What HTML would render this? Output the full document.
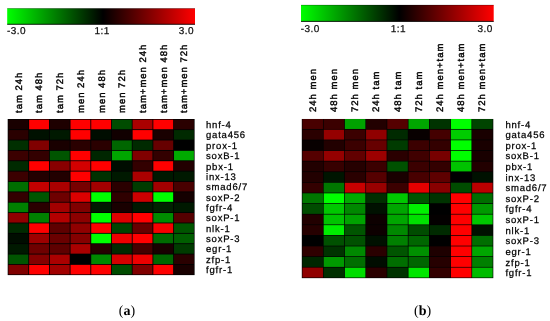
<!DOCTYPE html>
<html><head><meta charset="utf-8"><title>heatmap</title>
<style>
html,body{margin:0;padding:0;background:#fff;}
body{width:550px;height:321px;position:relative;overflow:hidden;font-family:"Liberation Sans",sans-serif;color:#000;text-rendering:geometricPrecision;}
.hm{position:absolute;}
.rl{position:absolute;font-size:9.5px;line-height:12px;height:12px;letter-spacing:0.8px;white-space:nowrap;-webkit-text-stroke:0.25px #000;}
.cl{position:absolute;font-size:9.5px;line-height:12px;height:12px;letter-spacing:1.0px;white-space:nowrap;transform-origin:0 0;transform:rotate(-90deg) translateY(-4.5px);-webkit-text-stroke:0.4px #000;}
.bar{position:absolute;background:linear-gradient(to right,#00ff00 0%,#000 51%,#ff0000 100%);box-sizing:border-box;border-top:0.6px solid #222;border-bottom:1px solid #111;}
.bt{position:absolute;font-size:10px;line-height:12px;white-space:nowrap;letter-spacing:0.45px;color:#111;-webkit-text-stroke:0.25px #111;}
.cap{position:absolute;font-family:"Liberation Serif",serif;font-size:14px;line-height:16px;white-space:nowrap;transform:translateX(-50%);}
</style></head><body>
<svg class="hm" style="left:0;top:0" width="550" height="321" viewBox="0 0 550 321">
<rect x="7.70" y="119.00" width="186.90" height="156.10" fill="#000"/>
<rect x="8.42" y="119.72" width="19.86" height="9.53" fill="rgb(25,0,0)"/>
<rect x="29.12" y="119.72" width="19.86" height="9.53" fill="rgb(255,0,0)"/>
<rect x="49.82" y="119.72" width="19.86" height="9.53" fill="rgb(30,0,0)"/>
<rect x="70.52" y="119.72" width="19.86" height="9.53" fill="rgb(255,0,0)"/>
<rect x="91.22" y="119.72" width="19.86" height="9.53" fill="rgb(255,0,0)"/>
<rect x="111.92" y="119.72" width="19.86" height="9.53" fill="rgb(0,76,0)"/>
<rect x="132.62" y="119.72" width="19.86" height="9.53" fill="rgb(170,0,0)"/>
<rect x="153.32" y="119.72" width="19.86" height="9.53" fill="rgb(255,0,0)"/>
<rect x="174.02" y="119.72" width="19.86" height="9.53" fill="rgb(42,0,0)"/>
<rect x="8.42" y="130.09" width="19.86" height="9.53" fill="rgb(42,0,0)"/>
<rect x="29.12" y="130.09" width="19.86" height="9.53" fill="rgb(0,17,0)"/>
<rect x="49.82" y="130.09" width="19.86" height="9.53" fill="rgb(0,25,0)"/>
<rect x="70.52" y="130.09" width="19.86" height="9.53" fill="rgb(255,0,0)"/>
<rect x="91.22" y="130.09" width="19.86" height="9.53" fill="rgb(0,13,0)"/>
<rect x="111.92" y="130.09" width="19.86" height="9.53" fill="rgb(17,0,0)"/>
<rect x="132.62" y="130.09" width="19.86" height="9.53" fill="rgb(255,0,0)"/>
<rect x="153.32" y="130.09" width="19.86" height="9.53" fill="rgb(25,0,0)"/>
<rect x="174.02" y="130.09" width="19.86" height="9.53" fill="rgb(0,42,0)"/>
<rect x="8.42" y="140.45" width="19.86" height="9.53" fill="rgb(0,47,0)"/>
<rect x="29.12" y="140.45" width="19.86" height="9.53" fill="rgb(128,0,0)"/>
<rect x="49.82" y="140.45" width="19.86" height="9.53" fill="rgb(25,0,0)"/>
<rect x="70.52" y="140.45" width="19.86" height="9.53" fill="rgb(42,0,0)"/>
<rect x="91.22" y="140.45" width="19.86" height="9.53" fill="rgb(42,0,0)"/>
<rect x="111.92" y="140.45" width="19.86" height="9.53" fill="rgb(0,102,0)"/>
<rect x="132.62" y="140.45" width="19.86" height="9.53" fill="rgb(0,42,0)"/>
<rect x="153.32" y="140.45" width="19.86" height="9.53" fill="rgb(102,0,0)"/>
<rect x="174.02" y="140.45" width="19.86" height="9.53" fill="rgb(0,0,0)"/>
<rect x="8.42" y="150.82" width="19.86" height="9.53" fill="rgb(59,0,0)"/>
<rect x="29.12" y="150.82" width="19.86" height="9.53" fill="rgb(51,0,0)"/>
<rect x="49.82" y="150.82" width="19.86" height="9.53" fill="rgb(0,85,0)"/>
<rect x="70.52" y="150.82" width="19.86" height="9.53" fill="rgb(255,0,0)"/>
<rect x="91.22" y="150.82" width="19.86" height="9.53" fill="rgb(0,38,0)"/>
<rect x="111.92" y="150.82" width="19.86" height="9.53" fill="rgb(0,166,0)"/>
<rect x="132.62" y="150.82" width="19.86" height="9.53" fill="rgb(128,0,0)"/>
<rect x="153.32" y="150.82" width="19.86" height="9.53" fill="rgb(51,0,0)"/>
<rect x="174.02" y="150.82" width="19.86" height="9.53" fill="rgb(0,170,0)"/>
<rect x="8.42" y="161.19" width="19.86" height="9.53" fill="rgb(0,42,0)"/>
<rect x="29.12" y="161.19" width="19.86" height="9.53" fill="rgb(255,0,0)"/>
<rect x="49.82" y="161.19" width="19.86" height="9.53" fill="rgb(136,0,0)"/>
<rect x="70.52" y="161.19" width="19.86" height="9.53" fill="rgb(212,0,0)"/>
<rect x="91.22" y="161.19" width="19.86" height="9.53" fill="rgb(255,0,0)"/>
<rect x="111.92" y="161.19" width="19.86" height="9.53" fill="rgb(0,13,0)"/>
<rect x="132.62" y="161.19" width="19.86" height="9.53" fill="rgb(51,0,0)"/>
<rect x="153.32" y="161.19" width="19.86" height="9.53" fill="rgb(255,0,0)"/>
<rect x="174.02" y="161.19" width="19.86" height="9.53" fill="rgb(34,0,0)"/>
<rect x="8.42" y="171.55" width="19.86" height="9.53" fill="rgb(59,0,0)"/>
<rect x="29.12" y="171.55" width="19.86" height="9.53" fill="rgb(34,0,0)"/>
<rect x="49.82" y="171.55" width="19.86" height="9.53" fill="rgb(34,0,0)"/>
<rect x="70.52" y="171.55" width="19.86" height="9.53" fill="rgb(255,0,0)"/>
<rect x="91.22" y="171.55" width="19.86" height="9.53" fill="rgb(0,49,0)"/>
<rect x="111.92" y="171.55" width="19.86" height="9.53" fill="rgb(0,25,0)"/>
<rect x="132.62" y="171.55" width="19.86" height="9.53" fill="rgb(170,0,0)"/>
<rect x="153.32" y="171.55" width="19.86" height="9.53" fill="rgb(0,25,0)"/>
<rect x="174.02" y="171.55" width="19.86" height="9.53" fill="rgb(0,25,0)"/>
<rect x="8.42" y="181.92" width="19.86" height="9.53" fill="rgb(0,110,0)"/>
<rect x="29.12" y="181.92" width="19.86" height="9.53" fill="rgb(195,0,0)"/>
<rect x="49.82" y="181.92" width="19.86" height="9.53" fill="rgb(170,0,0)"/>
<rect x="70.52" y="181.92" width="19.86" height="9.53" fill="rgb(119,0,0)"/>
<rect x="91.22" y="181.92" width="19.86" height="9.53" fill="rgb(162,0,0)"/>
<rect x="111.92" y="181.92" width="19.86" height="9.53" fill="rgb(42,0,0)"/>
<rect x="132.62" y="181.92" width="19.86" height="9.53" fill="rgb(0,59,0)"/>
<rect x="153.32" y="181.92" width="19.86" height="9.53" fill="rgb(162,0,0)"/>
<rect x="174.02" y="181.92" width="19.86" height="9.53" fill="rgb(72,0,0)"/>
<rect x="8.42" y="192.29" width="19.86" height="9.53" fill="rgb(51,0,0)"/>
<rect x="29.12" y="192.29" width="19.86" height="9.53" fill="rgb(0,85,0)"/>
<rect x="49.82" y="192.29" width="19.86" height="9.53" fill="rgb(110,0,0)"/>
<rect x="70.52" y="192.29" width="19.86" height="9.53" fill="rgb(221,0,0)"/>
<rect x="91.22" y="192.29" width="19.86" height="9.53" fill="rgb(0,255,0)"/>
<rect x="111.92" y="192.29" width="19.86" height="9.53" fill="rgb(47,0,0)"/>
<rect x="132.62" y="192.29" width="19.86" height="9.53" fill="rgb(204,0,0)"/>
<rect x="153.32" y="192.29" width="19.86" height="9.53" fill="rgb(0,255,0)"/>
<rect x="174.02" y="192.29" width="19.86" height="9.53" fill="rgb(21,0,0)"/>
<rect x="8.42" y="202.65" width="19.86" height="9.53" fill="rgb(0,128,0)"/>
<rect x="29.12" y="202.65" width="19.86" height="9.53" fill="rgb(42,0,0)"/>
<rect x="49.82" y="202.65" width="19.86" height="9.53" fill="rgb(162,0,0)"/>
<rect x="70.52" y="202.65" width="19.86" height="9.53" fill="rgb(128,0,0)"/>
<rect x="91.22" y="202.65" width="19.86" height="9.53" fill="rgb(0,25,0)"/>
<rect x="111.92" y="202.65" width="19.86" height="9.53" fill="rgb(25,0,0)"/>
<rect x="132.62" y="202.65" width="19.86" height="9.53" fill="rgb(0,25,0)"/>
<rect x="153.32" y="202.65" width="19.86" height="9.53" fill="rgb(0,34,0)"/>
<rect x="174.02" y="202.65" width="19.86" height="9.53" fill="rgb(0,25,0)"/>
<rect x="8.42" y="213.02" width="19.86" height="9.53" fill="rgb(144,0,0)"/>
<rect x="29.12" y="213.02" width="19.86" height="9.53" fill="rgb(0,128,0)"/>
<rect x="49.82" y="213.02" width="19.86" height="9.53" fill="rgb(179,0,0)"/>
<rect x="70.52" y="213.02" width="19.86" height="9.53" fill="rgb(140,0,0)"/>
<rect x="91.22" y="213.02" width="19.86" height="9.53" fill="rgb(0,255,0)"/>
<rect x="111.92" y="213.02" width="19.86" height="9.53" fill="rgb(221,0,0)"/>
<rect x="132.62" y="213.02" width="19.86" height="9.53" fill="rgb(255,0,0)"/>
<rect x="153.32" y="213.02" width="19.86" height="9.53" fill="rgb(0,140,0)"/>
<rect x="174.02" y="213.02" width="19.86" height="9.53" fill="rgb(85,0,0)"/>
<rect x="8.42" y="223.39" width="19.86" height="9.53" fill="rgb(0,42,0)"/>
<rect x="29.12" y="223.39" width="19.86" height="9.53" fill="rgb(255,0,0)"/>
<rect x="49.82" y="223.39" width="19.86" height="9.53" fill="rgb(94,0,0)"/>
<rect x="70.52" y="223.39" width="19.86" height="9.53" fill="rgb(144,0,0)"/>
<rect x="91.22" y="223.39" width="19.86" height="9.53" fill="rgb(255,0,0)"/>
<rect x="111.92" y="223.39" width="19.86" height="9.53" fill="rgb(0,68,0)"/>
<rect x="132.62" y="223.39" width="19.86" height="9.53" fill="rgb(102,0,0)"/>
<rect x="153.32" y="223.39" width="19.86" height="9.53" fill="rgb(246,0,0)"/>
<rect x="174.02" y="223.39" width="19.86" height="9.53" fill="rgb(0,85,0)"/>
<rect x="8.42" y="233.75" width="19.86" height="9.53" fill="rgb(0,13,0)"/>
<rect x="29.12" y="233.75" width="19.86" height="9.53" fill="rgb(157,0,0)"/>
<rect x="49.82" y="233.75" width="19.86" height="9.53" fill="rgb(106,0,0)"/>
<rect x="70.52" y="233.75" width="19.86" height="9.53" fill="rgb(132,0,0)"/>
<rect x="91.22" y="233.75" width="19.86" height="9.53" fill="rgb(0,255,0)"/>
<rect x="111.92" y="233.75" width="19.86" height="9.53" fill="rgb(238,0,0)"/>
<rect x="132.62" y="233.75" width="19.86" height="9.53" fill="rgb(255,0,0)"/>
<rect x="153.32" y="233.75" width="19.86" height="9.53" fill="rgb(0,106,0)"/>
<rect x="174.02" y="233.75" width="19.86" height="9.53" fill="rgb(0,94,0)"/>
<rect x="8.42" y="244.12" width="19.86" height="9.53" fill="rgb(0,25,0)"/>
<rect x="29.12" y="244.12" width="19.86" height="9.53" fill="rgb(110,0,0)"/>
<rect x="49.82" y="244.12" width="19.86" height="9.53" fill="rgb(94,0,0)"/>
<rect x="70.52" y="244.12" width="19.86" height="9.53" fill="rgb(170,0,0)"/>
<rect x="91.22" y="244.12" width="19.86" height="9.53" fill="rgb(38,0,0)"/>
<rect x="111.92" y="244.12" width="19.86" height="9.53" fill="rgb(0,42,0)"/>
<rect x="132.62" y="244.12" width="19.86" height="9.53" fill="rgb(68,0,0)"/>
<rect x="153.32" y="244.12" width="19.86" height="9.53" fill="rgb(25,0,0)"/>
<rect x="174.02" y="244.12" width="19.86" height="9.53" fill="rgb(0,59,0)"/>
<rect x="8.42" y="254.49" width="19.86" height="9.53" fill="rgb(0,85,0)"/>
<rect x="29.12" y="254.49" width="19.86" height="9.53" fill="rgb(132,0,0)"/>
<rect x="49.82" y="254.49" width="19.86" height="9.53" fill="rgb(170,0,0)"/>
<rect x="70.52" y="254.49" width="19.86" height="9.53" fill="rgb(0,0,0)"/>
<rect x="91.22" y="254.49" width="19.86" height="9.53" fill="rgb(0,136,0)"/>
<rect x="111.92" y="254.49" width="19.86" height="9.53" fill="rgb(212,0,0)"/>
<rect x="132.62" y="254.49" width="19.86" height="9.53" fill="rgb(238,0,0)"/>
<rect x="153.32" y="254.49" width="19.86" height="9.53" fill="rgb(0,102,0)"/>
<rect x="174.02" y="254.49" width="19.86" height="9.53" fill="rgb(42,0,0)"/>
<rect x="8.42" y="264.85" width="19.86" height="9.53" fill="rgb(128,0,0)"/>
<rect x="29.12" y="264.85" width="19.86" height="9.53" fill="rgb(255,0,0)"/>
<rect x="49.82" y="264.85" width="19.86" height="9.53" fill="rgb(162,0,0)"/>
<rect x="70.52" y="264.85" width="19.86" height="9.53" fill="rgb(255,0,0)"/>
<rect x="91.22" y="264.85" width="19.86" height="9.53" fill="rgb(255,0,0)"/>
<rect x="111.92" y="264.85" width="19.86" height="9.53" fill="rgb(0,76,0)"/>
<rect x="132.62" y="264.85" width="19.86" height="9.53" fill="rgb(128,0,0)"/>
<rect x="153.32" y="264.85" width="19.86" height="9.53" fill="rgb(255,0,0)"/>
<rect x="174.02" y="264.85" width="19.86" height="9.53" fill="rgb(25,0,0)"/>
</svg>
<div class="rl" style="left:206px;top:120.08px">hnf-4</div>
<div class="rl" style="left:206px;top:130.45px">gata456</div>
<div class="rl" style="left:206px;top:140.82px">prox-1</div>
<div class="rl" style="left:206px;top:151.18px">soxB-1</div>
<div class="rl" style="left:206px;top:161.55px">pbx-1</div>
<div class="rl" style="left:206px;top:171.92px">inx-13</div>
<div class="rl" style="left:206px;top:182.28px">smad6/7</div>
<div class="rl" style="left:206px;top:192.65px">soxP-2</div>
<div class="rl" style="left:206px;top:203.02px">fgfr-4</div>
<div class="rl" style="left:206px;top:213.38px">soxP-1</div>
<div class="rl" style="left:206px;top:223.75px">nlk-1</div>
<div class="rl" style="left:206px;top:234.12px">soxP-3</div>
<div class="rl" style="left:206px;top:244.48px">egr-1</div>
<div class="rl" style="left:206px;top:254.85px">zfp-1</div>
<div class="rl" style="left:206px;top:265.22px">fgfr-1</div>
<div class="cl" style="left:17.70px;top:113.0px">tam 24h</div>
<div class="cl" style="left:38.40px;top:113.0px">tam 48h</div>
<div class="cl" style="left:59.10px;top:113.0px">tam 72h</div>
<div class="cl" style="left:79.80px;top:113.0px">men 24h</div>
<div class="cl" style="left:100.50px;top:113.0px">men 48h</div>
<div class="cl" style="left:121.20px;top:113.0px">men 72h</div>
<div class="cl" style="left:141.90px;top:113.0px">tam+men 24h</div>
<div class="cl" style="left:162.60px;top:113.0px">tam+men 48h</div>
<div class="cl" style="left:183.30px;top:113.0px">tam+men 72h</div>
<svg class="hm" style="left:0;top:0" width="550" height="321" viewBox="0 0 550 321"><defs><linearGradient id="g7" x1="0" x2="1" y1="0" y2="0"><stop offset="0" stop-color="#00ff00"/><stop offset="0.51" stop-color="#000"/><stop offset="1" stop-color="#ff0000"/></linearGradient></defs><rect x="7.2" y="8.4" width="187.80" height="16.00" fill="url(#g7)"/><rect x="7.2" y="8.20" width="187.80" height="0.7" fill="#000" fill-opacity="0.4"/><rect x="7.2" y="23.80" width="187.80" height="0.9" fill="#000" fill-opacity="0.95"/></svg>
<div class="bt" style="left:6.9px;top:25.699999999999996px">-3.0</div>
<div class="bt" style="left:94.6px;top:25.699999999999996px">1:1</div>
<div class="bt" style="left:178.7px;top:25.699999999999996px">3.0</div>
<svg class="hm" style="left:0;top:0" width="550" height="321" viewBox="0 0 550 321">
<rect x="301.80" y="118.40" width="191.50" height="159.75" fill="#000"/>
<rect x="302.44" y="119.04" width="20.53" height="9.93" fill="rgb(72,0,0)"/>
<rect x="323.65" y="119.04" width="20.53" height="9.93" fill="rgb(59,0,0)"/>
<rect x="344.86" y="119.04" width="20.53" height="9.93" fill="rgb(0,162,0)"/>
<rect x="366.07" y="119.04" width="20.53" height="9.93" fill="rgb(34,0,0)"/>
<rect x="387.28" y="119.04" width="20.53" height="9.93" fill="rgb(85,0,0)"/>
<rect x="408.50" y="119.04" width="20.53" height="9.93" fill="rgb(0,166,0)"/>
<rect x="429.71" y="119.04" width="20.53" height="9.93" fill="rgb(0,51,0)"/>
<rect x="450.92" y="119.04" width="20.53" height="9.93" fill="rgb(0,255,0)"/>
<rect x="472.13" y="119.04" width="20.53" height="9.93" fill="rgb(0,68,0)"/>
<rect x="302.44" y="129.65" width="20.53" height="9.93" fill="rgb(42,0,0)"/>
<rect x="323.65" y="129.65" width="20.53" height="9.93" fill="rgb(149,0,0)"/>
<rect x="344.86" y="129.65" width="20.53" height="9.93" fill="rgb(59,0,0)"/>
<rect x="366.07" y="129.65" width="20.53" height="9.93" fill="rgb(144,0,0)"/>
<rect x="387.28" y="129.65" width="20.53" height="9.93" fill="rgb(0,42,0)"/>
<rect x="408.50" y="129.65" width="20.53" height="9.93" fill="rgb(8,0,0)"/>
<rect x="429.71" y="129.65" width="20.53" height="9.93" fill="rgb(68,0,0)"/>
<rect x="450.92" y="129.65" width="20.53" height="9.93" fill="rgb(0,204,0)"/>
<rect x="472.13" y="129.65" width="20.53" height="9.93" fill="rgb(25,0,0)"/>
<rect x="302.44" y="140.26" width="20.53" height="9.93" fill="rgb(8,0,0)"/>
<rect x="323.65" y="140.26" width="20.53" height="9.93" fill="rgb(34,0,0)"/>
<rect x="344.86" y="140.26" width="20.53" height="9.93" fill="rgb(59,0,0)"/>
<rect x="366.07" y="140.26" width="20.53" height="9.93" fill="rgb(102,0,0)"/>
<rect x="387.28" y="140.26" width="20.53" height="9.93" fill="rgb(0,59,0)"/>
<rect x="408.50" y="140.26" width="20.53" height="9.93" fill="rgb(59,0,0)"/>
<rect x="429.71" y="140.26" width="20.53" height="9.93" fill="rgb(51,0,0)"/>
<rect x="450.92" y="140.26" width="20.53" height="9.93" fill="rgb(0,255,0)"/>
<rect x="472.13" y="140.26" width="20.53" height="9.93" fill="rgb(25,0,0)"/>
<rect x="302.44" y="150.87" width="20.53" height="9.93" fill="rgb(85,0,0)"/>
<rect x="323.65" y="150.87" width="20.53" height="9.93" fill="rgb(149,0,0)"/>
<rect x="344.86" y="150.87" width="20.53" height="9.93" fill="rgb(98,0,0)"/>
<rect x="366.07" y="150.87" width="20.53" height="9.93" fill="rgb(157,0,0)"/>
<rect x="387.28" y="150.87" width="20.53" height="9.93" fill="rgb(42,0,0)"/>
<rect x="408.50" y="150.87" width="20.53" height="9.93" fill="rgb(64,0,0)"/>
<rect x="429.71" y="150.87" width="20.53" height="9.93" fill="rgb(119,0,0)"/>
<rect x="450.92" y="150.87" width="20.53" height="9.93" fill="rgb(0,255,0)"/>
<rect x="472.13" y="150.87" width="20.53" height="9.93" fill="rgb(25,0,0)"/>
<rect x="302.44" y="161.48" width="20.53" height="9.93" fill="rgb(34,0,0)"/>
<rect x="323.65" y="161.48" width="20.53" height="9.93" fill="rgb(55,0,0)"/>
<rect x="344.86" y="161.48" width="20.53" height="9.93" fill="rgb(38,0,0)"/>
<rect x="366.07" y="161.48" width="20.53" height="9.93" fill="rgb(59,0,0)"/>
<rect x="387.28" y="161.48" width="20.53" height="9.93" fill="rgb(0,81,0)"/>
<rect x="408.50" y="161.48" width="20.53" height="9.93" fill="rgb(59,0,0)"/>
<rect x="429.71" y="161.48" width="20.53" height="9.93" fill="rgb(51,0,0)"/>
<rect x="450.92" y="161.48" width="20.53" height="9.93" fill="rgb(0,195,0)"/>
<rect x="472.13" y="161.48" width="20.53" height="9.93" fill="rgb(34,0,0)"/>
<rect x="302.44" y="172.09" width="20.53" height="9.93" fill="rgb(34,0,0)"/>
<rect x="323.65" y="172.09" width="20.53" height="9.93" fill="rgb(0,21,0)"/>
<rect x="344.86" y="172.09" width="20.53" height="9.93" fill="rgb(42,0,0)"/>
<rect x="366.07" y="172.09" width="20.53" height="9.93" fill="rgb(85,0,0)"/>
<rect x="387.28" y="172.09" width="20.53" height="9.93" fill="rgb(25,0,0)"/>
<rect x="408.50" y="172.09" width="20.53" height="9.93" fill="rgb(72,0,0)"/>
<rect x="429.71" y="172.09" width="20.53" height="9.93" fill="rgb(94,0,0)"/>
<rect x="450.92" y="172.09" width="20.53" height="9.93" fill="rgb(0,0,0)"/>
<rect x="472.13" y="172.09" width="20.53" height="9.93" fill="rgb(0,17,0)"/>
<rect x="302.44" y="182.70" width="20.53" height="9.93" fill="rgb(51,0,0)"/>
<rect x="323.65" y="182.70" width="20.53" height="9.93" fill="rgb(0,119,0)"/>
<rect x="344.86" y="182.70" width="20.53" height="9.93" fill="rgb(200,0,0)"/>
<rect x="366.07" y="182.70" width="20.53" height="9.93" fill="rgb(153,0,0)"/>
<rect x="387.28" y="182.70" width="20.53" height="9.93" fill="rgb(59,0,0)"/>
<rect x="408.50" y="182.70" width="20.53" height="9.93" fill="rgb(230,0,0)"/>
<rect x="429.71" y="182.70" width="20.53" height="9.93" fill="rgb(136,0,0)"/>
<rect x="450.92" y="182.70" width="20.53" height="9.93" fill="rgb(0,76,0)"/>
<rect x="472.13" y="182.70" width="20.53" height="9.93" fill="rgb(187,0,0)"/>
<rect x="302.44" y="193.31" width="20.53" height="9.93" fill="rgb(0,119,0)"/>
<rect x="323.65" y="193.31" width="20.53" height="9.93" fill="rgb(0,255,0)"/>
<rect x="344.86" y="193.31" width="20.53" height="9.93" fill="rgb(0,170,0)"/>
<rect x="366.07" y="193.31" width="20.53" height="9.93" fill="rgb(0,47,0)"/>
<rect x="387.28" y="193.31" width="20.53" height="9.93" fill="rgb(0,200,0)"/>
<rect x="408.50" y="193.31" width="20.53" height="9.93" fill="rgb(0,85,0)"/>
<rect x="429.71" y="193.31" width="20.53" height="9.93" fill="rgb(0,51,0)"/>
<rect x="450.92" y="193.31" width="20.53" height="9.93" fill="rgb(255,0,0)"/>
<rect x="472.13" y="193.31" width="20.53" height="9.93" fill="rgb(0,110,0)"/>
<rect x="302.44" y="203.92" width="20.53" height="9.93" fill="rgb(0,76,0)"/>
<rect x="323.65" y="203.92" width="20.53" height="9.93" fill="rgb(0,200,0)"/>
<rect x="344.86" y="203.92" width="20.53" height="9.93" fill="rgb(0,136,0)"/>
<rect x="366.07" y="203.92" width="20.53" height="9.93" fill="rgb(0,17,0)"/>
<rect x="387.28" y="203.92" width="20.53" height="9.93" fill="rgb(0,166,0)"/>
<rect x="408.50" y="203.92" width="20.53" height="9.93" fill="rgb(0,242,0)"/>
<rect x="429.71" y="203.92" width="20.53" height="9.93" fill="rgb(0,0,0)"/>
<rect x="450.92" y="203.92" width="20.53" height="9.93" fill="rgb(255,0,0)"/>
<rect x="472.13" y="203.92" width="20.53" height="9.93" fill="rgb(0,153,0)"/>
<rect x="302.44" y="214.53" width="20.53" height="9.93" fill="rgb(34,0,0)"/>
<rect x="323.65" y="214.53" width="20.53" height="9.93" fill="rgb(0,195,0)"/>
<rect x="344.86" y="214.53" width="20.53" height="9.93" fill="rgb(0,162,0)"/>
<rect x="366.07" y="214.53" width="20.53" height="9.93" fill="rgb(13,0,0)"/>
<rect x="387.28" y="214.53" width="20.53" height="9.93" fill="rgb(0,166,0)"/>
<rect x="408.50" y="214.53" width="20.53" height="9.93" fill="rgb(0,225,0)"/>
<rect x="429.71" y="214.53" width="20.53" height="9.93" fill="rgb(4,0,0)"/>
<rect x="450.92" y="214.53" width="20.53" height="9.93" fill="rgb(255,0,0)"/>
<rect x="472.13" y="214.53" width="20.53" height="9.93" fill="rgb(0,200,0)"/>
<rect x="302.44" y="225.14" width="20.53" height="9.93" fill="rgb(38,0,0)"/>
<rect x="323.65" y="225.14" width="20.53" height="9.93" fill="rgb(0,238,0)"/>
<rect x="344.86" y="225.14" width="20.53" height="9.93" fill="rgb(0,85,0)"/>
<rect x="366.07" y="225.14" width="20.53" height="9.93" fill="rgb(13,0,0)"/>
<rect x="387.28" y="225.14" width="20.53" height="9.93" fill="rgb(0,136,0)"/>
<rect x="408.50" y="225.14" width="20.53" height="9.93" fill="rgb(0,76,0)"/>
<rect x="429.71" y="225.14" width="20.53" height="9.93" fill="rgb(0,42,0)"/>
<rect x="450.92" y="225.14" width="20.53" height="9.93" fill="rgb(255,0,0)"/>
<rect x="472.13" y="225.14" width="20.53" height="9.93" fill="rgb(0,17,0)"/>
<rect x="302.44" y="235.75" width="20.53" height="9.93" fill="rgb(0,0,0)"/>
<rect x="323.65" y="235.75" width="20.53" height="9.93" fill="rgb(0,81,0)"/>
<rect x="344.86" y="235.75" width="20.53" height="9.93" fill="rgb(0,81,0)"/>
<rect x="366.07" y="235.75" width="20.53" height="9.93" fill="rgb(0,17,0)"/>
<rect x="387.28" y="235.75" width="20.53" height="9.93" fill="rgb(0,128,0)"/>
<rect x="408.50" y="235.75" width="20.53" height="9.93" fill="rgb(0,102,0)"/>
<rect x="429.71" y="235.75" width="20.53" height="9.93" fill="rgb(0,0,0)"/>
<rect x="450.92" y="235.75" width="20.53" height="9.93" fill="rgb(255,0,0)"/>
<rect x="472.13" y="235.75" width="20.53" height="9.93" fill="rgb(0,110,0)"/>
<rect x="302.44" y="246.36" width="20.53" height="9.93" fill="rgb(47,0,0)"/>
<rect x="323.65" y="246.36" width="20.53" height="9.93" fill="rgb(0,51,0)"/>
<rect x="344.86" y="246.36" width="20.53" height="9.93" fill="rgb(0,136,0)"/>
<rect x="366.07" y="246.36" width="20.53" height="9.93" fill="rgb(42,0,0)"/>
<rect x="387.28" y="246.36" width="20.53" height="9.93" fill="rgb(0,85,0)"/>
<rect x="408.50" y="246.36" width="20.53" height="9.93" fill="rgb(0,144,0)"/>
<rect x="429.71" y="246.36" width="20.53" height="9.93" fill="rgb(30,0,0)"/>
<rect x="450.92" y="246.36" width="20.53" height="9.93" fill="rgb(255,0,0)"/>
<rect x="472.13" y="246.36" width="20.53" height="9.93" fill="rgb(0,166,0)"/>
<rect x="302.44" y="256.97" width="20.53" height="9.93" fill="rgb(0,38,0)"/>
<rect x="323.65" y="256.97" width="20.53" height="9.93" fill="rgb(0,153,0)"/>
<rect x="344.86" y="256.97" width="20.53" height="9.93" fill="rgb(0,110,0)"/>
<rect x="366.07" y="256.97" width="20.53" height="9.93" fill="rgb(0,13,0)"/>
<rect x="387.28" y="256.97" width="20.53" height="9.93" fill="rgb(0,110,0)"/>
<rect x="408.50" y="256.97" width="20.53" height="9.93" fill="rgb(0,102,0)"/>
<rect x="429.71" y="256.97" width="20.53" height="9.93" fill="rgb(38,0,0)"/>
<rect x="450.92" y="256.97" width="20.53" height="9.93" fill="rgb(255,0,0)"/>
<rect x="472.13" y="256.97" width="20.53" height="9.93" fill="rgb(0,128,0)"/>
<rect x="302.44" y="267.58" width="20.53" height="9.93" fill="rgb(144,0,0)"/>
<rect x="323.65" y="267.58" width="20.53" height="9.93" fill="rgb(0,47,0)"/>
<rect x="344.86" y="267.58" width="20.53" height="9.93" fill="rgb(0,221,0)"/>
<rect x="366.07" y="267.58" width="20.53" height="9.93" fill="rgb(42,0,0)"/>
<rect x="387.28" y="267.58" width="20.53" height="9.93" fill="rgb(0,51,0)"/>
<rect x="408.50" y="267.58" width="20.53" height="9.93" fill="rgb(0,230,0)"/>
<rect x="429.71" y="267.58" width="20.53" height="9.93" fill="rgb(51,0,0)"/>
<rect x="450.92" y="267.58" width="20.53" height="9.93" fill="rgb(255,0,0)"/>
<rect x="472.13" y="267.58" width="20.53" height="9.93" fill="rgb(0,187,0)"/>
<rect x="300.1" y="116.7" width="194.90" height="2.25" fill="#fff"/>
</svg>
<div class="rl" style="left:505.4px;top:119.61px">hnf-4</div>
<div class="rl" style="left:505.4px;top:130.22px">gata456</div>
<div class="rl" style="left:505.4px;top:140.83px">prox-1</div>
<div class="rl" style="left:505.4px;top:151.44px">soxB-1</div>
<div class="rl" style="left:505.4px;top:162.05px">pbx-1</div>
<div class="rl" style="left:505.4px;top:172.66px">inx-13</div>
<div class="rl" style="left:505.4px;top:183.27px">smad6/7</div>
<div class="rl" style="left:505.4px;top:193.88px">soxP-2</div>
<div class="rl" style="left:505.4px;top:204.49px">fgfr-4</div>
<div class="rl" style="left:505.4px;top:215.10px">soxP-1</div>
<div class="rl" style="left:505.4px;top:225.71px">nlk-1</div>
<div class="rl" style="left:505.4px;top:236.32px">soxP-3</div>
<div class="rl" style="left:505.4px;top:246.93px">egr-1</div>
<div class="rl" style="left:505.4px;top:257.54px">zfp-1</div>
<div class="rl" style="left:505.4px;top:268.15px">fgfr-1</div>
<div class="cl" style="left:311.80px;top:112.4px">24h men</div>
<div class="cl" style="left:333.01px;top:112.4px">48h men</div>
<div class="cl" style="left:354.22px;top:112.4px">72h men</div>
<div class="cl" style="left:375.43px;top:112.4px">24h tam</div>
<div class="cl" style="left:396.64px;top:112.4px">48h tam</div>
<div class="cl" style="left:417.86px;top:112.4px">72h tam</div>
<div class="cl" style="left:439.07px;top:112.4px">24h men+tam</div>
<div class="cl" style="left:460.28px;top:112.4px">48h men+tam</div>
<div class="cl" style="left:481.49px;top:112.4px">72h men+tam</div>
<svg class="hm" style="left:0;top:0" width="550" height="321" viewBox="0 0 550 321"><defs><linearGradient id="g301" x1="0" x2="1" y1="0" y2="0"><stop offset="0" stop-color="#00ff00"/><stop offset="0.51" stop-color="#000"/><stop offset="1" stop-color="#ff0000"/></linearGradient></defs><rect x="301" y="5" width="192.70" height="16.50" fill="url(#g301)"/><rect x="301" y="4.80" width="192.70" height="0.7" fill="#000" fill-opacity="0.4"/><rect x="301" y="20.90" width="192.70" height="0.9" fill="#000" fill-opacity="0.95"/></svg>
<div class="bt" style="left:300.7px;top:23.799999999999997px">-3.0</div>
<div class="bt" style="left:390.85px;top:23.799999999999997px">1:1</div>
<div class="bt" style="left:477.4px;top:23.799999999999997px">3.0</div>
<div class="cap" style="left:126.9px;top:303.5px">(<b>a</b>)</div>
<div class="cap" style="left:422.6px;top:303.5px">(<b>b</b>)</div>
</body></html>
